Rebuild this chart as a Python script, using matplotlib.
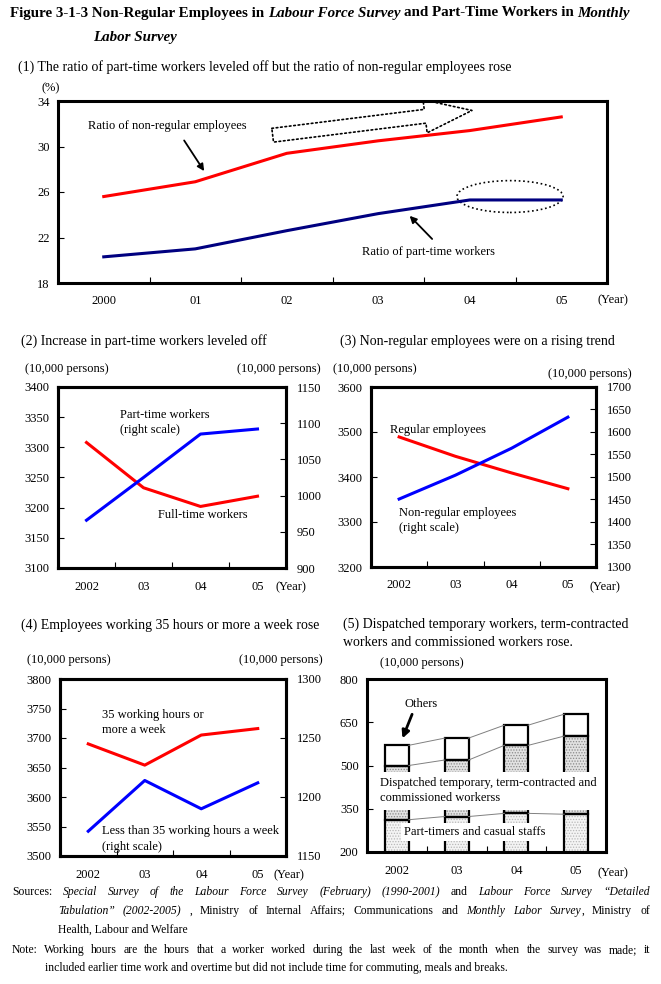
import matplotlib
matplotlib.use("Agg")
import matplotlib.pyplot as plt
from matplotlib.patches import Ellipse, FancyArrowPatch
import numpy as np

plt.rcParams['font.family'] = ['Liberation Serif', 'DejaVu Serif']
plt.rcParams['font.size'] = 9
plt.rcParams['hatch.linewidth'] = 0.6

W, H = 661, 984
TS = 10  # panel title size

# -----------------------------
# Data
# -----------------------------
years1 = ["2000", "01", "02", "03", "04", "05"]
ratio_nonregular = [25.6, 26.9, 29.4, 30.5, 31.4, 32.6]   # %
ratio_parttime = [20.3, 21.0, 22.6, 24.1, 25.3, 25.3]     # %

years = ["2002", "03", "04", "05"]
fulltime = [3308, 3233, 3202, 3219]        # left scale
parttime = [966, 1025, 1085, 1092]         # right scale
regular = [3489, 3446, 3409, 3374]         # left scale
nonregular = [1451, 1504, 1564, 1633]      # right scale
hours35_more = [3690, 3654, 3705, 3716]    # left scale
hours35_less = [1171, 1214, 1190, 1212]    # right scale
part_casual = [312, 323, 334, 331]
dispatched = [188, 196, 236, 271]
others = [70, 76, 70, 76]

RED = '#ff0000'
BLUE = '#0000ff'
NAVY = '#000080'


def fx(px):
    return px / W


def fy(py):
    return 1 - py / H


def box(l, t, r, b):
    return [fx(l), fy(b), (r - l) / W, (b - t) / H]


def style(ax, ylim, yticks, labels):
    n = len(labels)
    ax.set_xlim(-0.5, n - 0.5)
    ax.set_ylim(*ylim)
    ax.set_yticks(yticks)
    ax.set_xticks(range(n))
    ax.set_xticklabels(labels)
    ax.set_xticks(np.arange(0.5, n - 1, 1), minor=True)
    ax.tick_params(axis='x', which='major', length=0, pad=9)
    ax.tick_params(axis='x', which='minor', direction='in', length=4, width=0.8)
    ax.tick_params(axis='y', direction='in', length=4, width=0.8, pad=6)
    for s in ax.spines.values():
        s.set_linewidth(2.2)


def right_axis(ax, ylim, yticks):
    ax2 = ax.twinx()
    ax2.set_ylim(*ylim)
    ax2.set_yticks(yticks)
    ax2.tick_params(axis='y', direction='in', length=4, width=0.8, pad=8)
    for s in ax2.spines.values():
        s.set_linewidth(2.2)
    return ax2


fig = plt.figure(figsize=(W / 100, H / 100), dpi=100)

# -----------------------------
# (1) ratios
# -----------------------------
ax1 = fig.add_axes(box(58, 101, 607, 283))
x1 = np.arange(len(years1))
ax1.plot(x1, ratio_nonregular, color=RED, lw=2.2)
ax1.plot(x1, ratio_parttime, color=NAVY, lw=2.2)
style(ax1, (18, 34), [18, 22, 26, 30, 34], years1)

ax1.text(0.055, 0.861, "Ratio of non-regular employees", transform=ax1.transAxes, va='center')
ax1.annotate('', xy=(0.269, 0.602), xytext=(0.227, 0.796), xycoords='axes fraction',
             arrowprops=dict(arrowstyle='-|>', color='black', lw=1.3, mutation_scale=10))
ax1.text(0.554, 0.17, "Ratio of part-time workers", transform=ax1.transAxes, va='center')
ax1.annotate('', xy=(0.637, 0.380), xytext=(0.685, 0.231), xycoords='axes fraction',
             arrowprops=dict(arrowstyle='-|>', color='black', lw=1.3, mutation_scale=10))
ax1.add_patch(Ellipse((4.44, 25.6), 1.16, 2.8, fill=False, ls=':', lw=1.2, color='black'))
ax1.add_patch(FancyArrowPatch((0.391, 0.812), (0.754, 0.948), transform=ax1.transAxes,
                              arrowstyle='simple,head_length=34,head_width=24,tail_width=10',
                              mutation_scale=1, shrinkA=0, shrinkB=0,
                              fc='white', ec='black', ls=':', lw=1.2))

fig.text(fx(18), fy(67), "(1) The ratio of part-time workers leveled off but the ratio of non-regular employees rose",
         va='center', fontsize=TS)
fig.text(fx(42), fy(88), "(%)", va='center')
fig.text(fx(598), fy(300), "(Year)", va='center')

# -----------------------------
# (2) part-time / full-time
# -----------------------------
ax2 = fig.add_axes(box(58, 387, 286, 568))
x = np.arange(len(years))
ax2.plot(x, fulltime, color=RED, lw=2.2)
style(ax2, (3100, 3400), range(3100, 3401, 50), years)
ax2r = right_axis(ax2, (900, 1150), range(900, 1151, 50))
ax2r.plot(x, parttime, color=BLUE, lw=2.2)
ax2.text(0.274, 0.806, "Part-time workers\n(right scale)", transform=ax2.transAxes, va='center',
         linespacing=1.35)
ax2.text(0.439, 0.295, "Full-time workers", transform=ax2.transAxes, va='center')

fig.text(fx(21), fy(341), "(2) Increase in part-time workers leveled off", va='center', fontsize=TS)
fig.text(fx(25), fy(369), "(10,000 persons)", va='center')
fig.text(fx(237), fy(369), "(10,000 persons)", va='center')
fig.text(fx(275), fy(587), "(Year)", va='center')

# -----------------------------
# (3) regular / non-regular
# -----------------------------
ax3 = fig.add_axes(box(371, 387, 596, 567))
ax3.plot(x, regular, color=RED, lw=2.2)
style(ax3, (3200, 3600), range(3200, 3601, 100), years)
ax3r = right_axis(ax3, (1300, 1700), range(1300, 1701, 50))
ax3r.plot(x, nonregular, color=BLUE, lw=2.2)
ax3.text(0.086, 0.763, "Regular employees", transform=ax3.transAxes, va='center')
ax3.text(0.123, 0.258, "Non-regular employees\n(right scale)", transform=ax3.transAxes, va='center',
         linespacing=1.35)

fig.text(fx(340), fy(341), "(3) Non-regular employees were on a rising trend", va='center', fontsize=TS)
fig.text(fx(333), fy(369), "(10,000 persons)", va='center')
fig.text(fx(548), fy(374), "(10,000 persons)", va='center')
fig.text(fx(589), fy(587), "(Year)", va='center')

# -----------------------------
# (4) working hours
# -----------------------------
ax4 = fig.add_axes(box(60, 679, 286, 856))
ax4.plot(x, hours35_more, color=RED, lw=2.2)
style(ax4, (3500, 3800), range(3500, 3801, 50), years)
ax4r = right_axis(ax4, (1150, 1300), range(1150, 1301, 50))
ax4r.plot(x, hours35_less, color=BLUE, lw=2.2)
ax4.text(0.185, 0.755, "35 working hours or\nmore a week", transform=ax4.transAxes, va='center',
         linespacing=1.35)
ax4.text(0.185, 0.096, "Less than 35 working hours a week\n(right scale)", transform=ax4.transAxes,
         va='center', linespacing=1.35)

fig.text(fx(21), fy(625), "(4) Employees working 35 hours or more a week rose", va='center', fontsize=TS)
fig.text(fx(27), fy(660), "(10,000 persons)", va='center')
fig.text(fx(239), fy(660), "(10,000 persons)", va='center')
fig.text(fx(273), fy(875), "(Year)", va='center')

# -----------------------------
# (5) stacked bars
# -----------------------------
ax5 = fig.add_axes(box(367, 679, 606, 852))
bw = 0.4
lv1 = np.array(part_casual)
lv2 = lv1 + np.array(dispatched)
lv3 = lv2 + np.array(others)
ax5.bar(x, part_casual, bw, color='#f4f4f4', edgecolor='#b8b8b8', hatch='......', lw=0)
ax5.bar(x, dispatched, bw, bottom=lv1, color='#e2e2e2', edgecolor='#8a8a8a', hatch='......', lw=0)
ax5.bar(x, others, bw, bottom=lv2, color='white', lw=0)
for h, b in ((part_casual, 0), (dispatched, lv1), (others, lv2)):
    ax5.bar(x, h, bw, bottom=b, fill=False, edgecolor='black', lw=1.6)
for lv in (lv1, lv2, lv3):
    for i in range(len(x) - 1):
        ax5.plot([x[i] + bw / 2, x[i + 1] - bw / 2], [lv[i], lv[i + 1]], color='#808080', lw=0.7)
style(ax5, (200, 800), range(200, 801, 150), years)

ax5.text(0.228, 0.856, "Others", transform=ax5.transAxes, va='center', ha='center')
ax5.annotate('', xy=(0.144, 0.642), xytext=(0.193, 0.811), xycoords='axes fraction',
             arrowprops=dict(arrowstyle='-|>', color='black', lw=2, mutation_scale=11))
ax5.text(0.056, 0.355, "Dispatched temporary, term-contracted and\ncommissioned workerss",
         transform=ax5.transAxes, va='center', linespacing=1.35, zorder=5,
         bbox=dict(facecolor='white', edgecolor='none', pad=4))
ax5.text(0.154, 0.117, "Part-timers and casual staffs", transform=ax5.transAxes, va='center', zorder=5,
         bbox=dict(facecolor='white', edgecolor='none', pad=2))

fig.text(fx(343), fy(624), "(5) Dispatched temporary workers, term-contracted", va='center', fontsize=TS)
fig.text(fx(343), fy(642), "workers and commissioned workers rose.", va='center', fontsize=TS)
fig.text(fx(380), fy(663), "(10,000 persons)", va='center')
fig.text(fx(598), fy(873), "(Year)", va='center')

# -----------------------------
# Title and notes (mixed styles)
# -----------------------------
renderer = fig.canvas.get_renderer()


def width_of(s, kw, size):
    t = fig.text(0, 0, s, fontsize=size, **kw)
    w = t.get_window_extent(renderer).width
    t.remove()
    return w


def put_runs(runs, x0, y, size):
    # runs of one style each, separated by a normal space
    space = width_of("a a", {}, size) - width_of("aa", {}, size)
    xx = x0
    for i, (text, kw) in enumerate(runs):
        glue = text.startswith(",")
        if i > 0 and not glue:
            xx += space
        fig.text(fx(xx), fy(y), text, fontsize=size, va='center', ha='left', **kw)
        xx += width_of(text, kw, size)


def put_justified(runs, x0, x1, y, size):
    tokens = []
    for text, kw in runs:
        for j, w in enumerate(text.split()):
            tokens.append((w, kw, j == 0 and w.startswith(",") and text == ","))
    widths = [width_of(t, kw, size) for t, kw, g in tokens]
    ngaps = sum(1 for i, tok in enumerate(tokens) if i > 0 and not tok[2])
    gap = (x1 - x0 - sum(widths)) / ngaps
    xx = x0
    for i, ((t, kw, g), w) in enumerate(zip(tokens, widths)):
        if i > 0 and not g:
            xx += gap
        fig.text(fx(xx), fy(y), t, fontsize=size, va='center', ha='left', **kw)
        xx += w


N = {}
B = dict(fontweight='bold')
BI = dict(fontweight='bold', fontstyle='italic')
I = dict(fontstyle='italic')

title_runs = [("Figure 3-1-3 Non-Regular Employees in", B), ("Labour Force Survey", BI),
              ("and Part-Time Workers in", B), ("Monthly", BI)]
natural = sum(width_of(t, kw, 10) for t, kw in title_runs) + 3 * (width_of("a a", B, 10) - width_of("aa", B, 10))
tsize = 10 * (634 - 10) / natural
put_runs(title_runs, 10, 13, tsize)
put_runs([("Labor Survey", BI)], 93, 38, tsize)

cs = 8.4
put_justified([("Sources:", N), ("Special Survey of the Labour Force Survey (February) (1990-2001)", I),
               ("and", N), ("Labour Force Survey “Detailed", I)], 12, 650, 892, cs)
put_justified([("Tabulation” (2002-2005)", I), (", Ministry of Internal Affairs; Communications and", N),
               ("Monthly Labor Survey", I), (",", N), ("Ministry of", N)], 58, 650, 911, cs)
put_runs([("Health, Labour and Welfare", N)], 58, 930, cs)
put_justified([("Note: Working hours are the hours that a worker worked during the last week of the month "
                "when the survey was made; it", N)], 12, 650, 950, cs)
put_runs([("included earlier time work and overtime but did not include time for commuting, "
           "meals and breaks.", N)], 45, 968, cs)

fig.savefig("out.png", dpi=100)
